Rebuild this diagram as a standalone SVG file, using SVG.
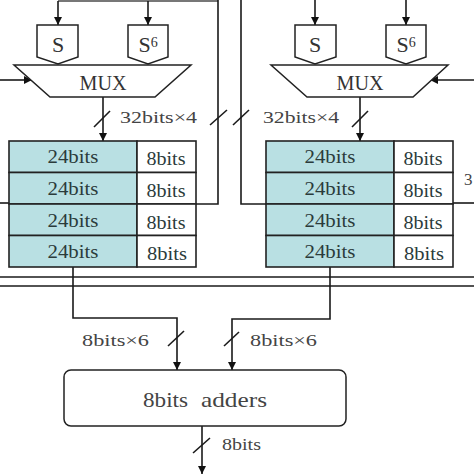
<svg xmlns="http://www.w3.org/2000/svg" width="474" height="474" viewBox="0 0 474 474">
<defs>
<marker id="ah" viewBox="0 0 10 10" refX="10" refY="5" markerWidth="8" markerHeight="9" orient="auto" markerUnits="userSpaceOnUse">
<path d="M0,0 L10,5 L0,10 z" fill="#111"/>
</marker>
<style>
.ln{fill:none;stroke:#1a1a1a;stroke-width:1.6}
.bx{fill:#fff;stroke:#222;stroke-width:1.5}
.reg{fill:#b9e0e3;stroke:#222;stroke-width:1.6}
.wc{fill:#fff;stroke:#222;stroke-width:1.6}
.t{font-family:"Liberation Serif","DejaVu Serif",serif;fill:#333;text-anchor:middle}
.tl{font-family:"Liberation Serif","DejaVu Serif",serif;fill:#444}
.rt{font-family:"Liberation Serif","DejaVu Serif",serif;fill:#2b3b3b;text-anchor:middle;font-size:18px}
</style>
</defs>
<rect width="474" height="474" fill="#fff"/>

<g id="connectors">
<line x1="58" y1="1" x2="218" y2="1" stroke="#777" stroke-width="2.2"/>
<line class="ln" x1="58" y1="1" x2="58" y2="25" marker-end="url(#ah)"/>
<line class="ln" x1="148" y1="1" x2="148" y2="25" marker-end="url(#ah)"/>
<line class="ln" x1="315" y1="0" x2="315" y2="25" marker-end="url(#ah)"/>
<line class="ln" x1="406" y1="0" x2="406" y2="25" marker-end="url(#ah)"/>
<line class="ln" x1="0" y1="80" x2="32" y2="80" marker-end="url(#ah)"/>
<line class="ln" x1="474" y1="80" x2="430" y2="80" marker-end="url(#ah)"/>
<polyline class="ln" points="196,204 218,204 218,0"/>
<polyline class="ln" points="266,204 241,204 241,0"/>
<line class="ln" x1="0" y1="203" x2="9" y2="203"/>
<line class="ln" x1="453" y1="203" x2="474" y2="203"/>
<line class="ln" x1="103" y1="97" x2="103" y2="141" marker-end="url(#ah)"/>
<line class="ln" x1="360" y1="97" x2="360" y2="141" marker-end="url(#ah)"/>
<line class="ln" x1="94" y1="127" x2="110" y2="111"/>
<line class="ln" x1="352" y1="127" x2="368" y2="111"/>
<line class="ln" x1="210" y1="125" x2="227" y2="110"/>
<line class="ln" x1="233" y1="125" x2="249" y2="110"/>
<line class="ln" x1="0" y1="277" x2="474" y2="277"/>
<line class="ln" x1="0" y1="286" x2="474" y2="286"/>
<polyline class="ln" points="73,267 73,318 177,318 177,370" marker-end="url(#ah)"/>
<polyline class="ln" points="330,267 330,319 232,319 232,370" marker-end="url(#ah)"/>
<line class="ln" x1="168" y1="346" x2="184" y2="331"/>
<line class="ln" x1="224" y1="346" x2="239" y2="332"/>
<line class="ln" x1="202" y1="426" x2="202" y2="474" marker-end="url(#ah)"/>
<line class="ln" x1="193" y1="453" x2="210" y2="438"/>
</g>

<g id="labels">
<text class="tl" x="120" y="123" font-size="17" textLength="77" lengthAdjust="spacingAndGlyphs">32bits×4</text>
<text class="tl" x="263" y="123" font-size="17" textLength="76" lengthAdjust="spacingAndGlyphs">32bits×4</text>
<text class="tl" x="464" y="185" font-size="17">3</text>
<text class="tl" x="82" y="346" font-size="17" textLength="67" lengthAdjust="spacingAndGlyphs">8bits×6</text>
<text class="tl" x="250" y="346" font-size="17" textLength="67" lengthAdjust="spacingAndGlyphs">8bits×6</text>
<text class="tl" x="222" y="450" font-size="17" textLength="39" lengthAdjust="spacingAndGlyphs">8bits</text>
</g>

<g id="S-left">
<polygon class="bx" points="37,25 78,25 78,57 58,64 37,57"/>
<text class="t" x="58" y="52" font-size="22">S</text>
</g>
<g id="S6-left">
<polygon class="bx" points="128,25 168,25 168,57 148,64 128,57"/>
<text class="t" x="148" y="52" font-size="22">S<tspan font-size="14" dy="-5">6</tspan></text>
</g>
<g id="MUX-left">
<polygon class="bx" points="14,65 191,65 155,97 50,97"/>
<text class="t" x="103" y="90" font-size="20" textLength="47" lengthAdjust="spacingAndGlyphs">MUX</text>
</g>

<g id="S-right">
<polygon class="bx" points="295,25 336,25 336,57 315,64 295,57"/>
<text class="t" x="315" y="52" font-size="22">S</text>
</g>
<g id="S6-right">
<polygon class="bx" points="386,25 426,25 426,57 406,64 386,57"/>
<text class="t" x="406" y="52" font-size="22">S<tspan font-size="14" dy="-5">6</tspan></text>
</g>
<g id="MUX-right">
<polygon class="bx" points="271,65 448,65 413,97 307,97"/>
<text class="t" x="360" y="90" font-size="20" textLength="47" lengthAdjust="spacingAndGlyphs">MUX</text>
</g>

<g id="register-left">
<rect class="reg" x="9" y="141" width="128" height="31.5"/>
<rect class="reg" x="9" y="172.5" width="128" height="31.5"/>
<rect class="reg" x="9" y="204" width="128" height="31.5"/>
<rect class="reg" x="9" y="235.5" width="128" height="31.5"/>
<rect class="wc" x="137" y="141" width="59" height="31.5"/>
<rect class="wc" x="137" y="172.5" width="59" height="31.5"/>
<rect class="wc" x="137" y="204" width="59" height="31.5"/>
<rect class="wc" x="137" y="235.5" width="59" height="31.5"/>
<text class="rt" x="73" y="163" textLength="51" lengthAdjust="spacingAndGlyphs">24bits</text>
<text class="rt" x="73" y="195" textLength="51" lengthAdjust="spacingAndGlyphs">24bits</text>
<text class="rt" x="73" y="227" textLength="51" lengthAdjust="spacingAndGlyphs">24bits</text>
<text class="rt" x="73" y="258" textLength="51" lengthAdjust="spacingAndGlyphs">24bits</text>
<text class="rt" x="166" y="165" textLength="39" lengthAdjust="spacingAndGlyphs">8bits</text>
<text class="rt" x="166" y="197" textLength="39" lengthAdjust="spacingAndGlyphs">8bits</text>
<text class="rt" x="166" y="229" textLength="39" lengthAdjust="spacingAndGlyphs">8bits</text>
<text class="rt" x="167" y="260" textLength="40" lengthAdjust="spacingAndGlyphs">8bits</text>
</g>

<g id="register-right">
<rect class="reg" x="266" y="141" width="128" height="31.5"/>
<rect class="reg" x="266" y="172.5" width="128" height="31.5"/>
<rect class="reg" x="266" y="204" width="128" height="31.5"/>
<rect class="reg" x="266" y="235.5" width="128" height="31.5"/>
<rect class="wc" x="394" y="141" width="59" height="31.5"/>
<rect class="wc" x="394" y="172.5" width="59" height="31.5"/>
<rect class="wc" x="394" y="204" width="59" height="31.5"/>
<rect class="wc" x="394" y="235.5" width="59" height="31.5"/>
<text class="rt" x="330" y="163" textLength="51" lengthAdjust="spacingAndGlyphs">24bits</text>
<text class="rt" x="330" y="195" textLength="51" lengthAdjust="spacingAndGlyphs">24bits</text>
<text class="rt" x="330" y="227" textLength="51" lengthAdjust="spacingAndGlyphs">24bits</text>
<text class="rt" x="330" y="258" textLength="51" lengthAdjust="spacingAndGlyphs">24bits</text>
<text class="rt" x="423" y="165" textLength="39" lengthAdjust="spacingAndGlyphs">8bits</text>
<text class="rt" x="423" y="197" textLength="39" lengthAdjust="spacingAndGlyphs">8bits</text>
<text class="rt" x="423" y="229" textLength="39" lengthAdjust="spacingAndGlyphs">8bits</text>
<text class="rt" x="424" y="260" textLength="40" lengthAdjust="spacingAndGlyphs">8bits</text>
</g>

<g id="adders">
<rect class="bx" x="64" y="370" width="282" height="56" rx="7"/>
<text class="tl" y="407" font-size="21"><tspan x="143" textLength="45" lengthAdjust="spacingAndGlyphs">8bits</tspan><tspan x="201" textLength="66" lengthAdjust="spacingAndGlyphs">adders</tspan></text>
</g>
</svg>
